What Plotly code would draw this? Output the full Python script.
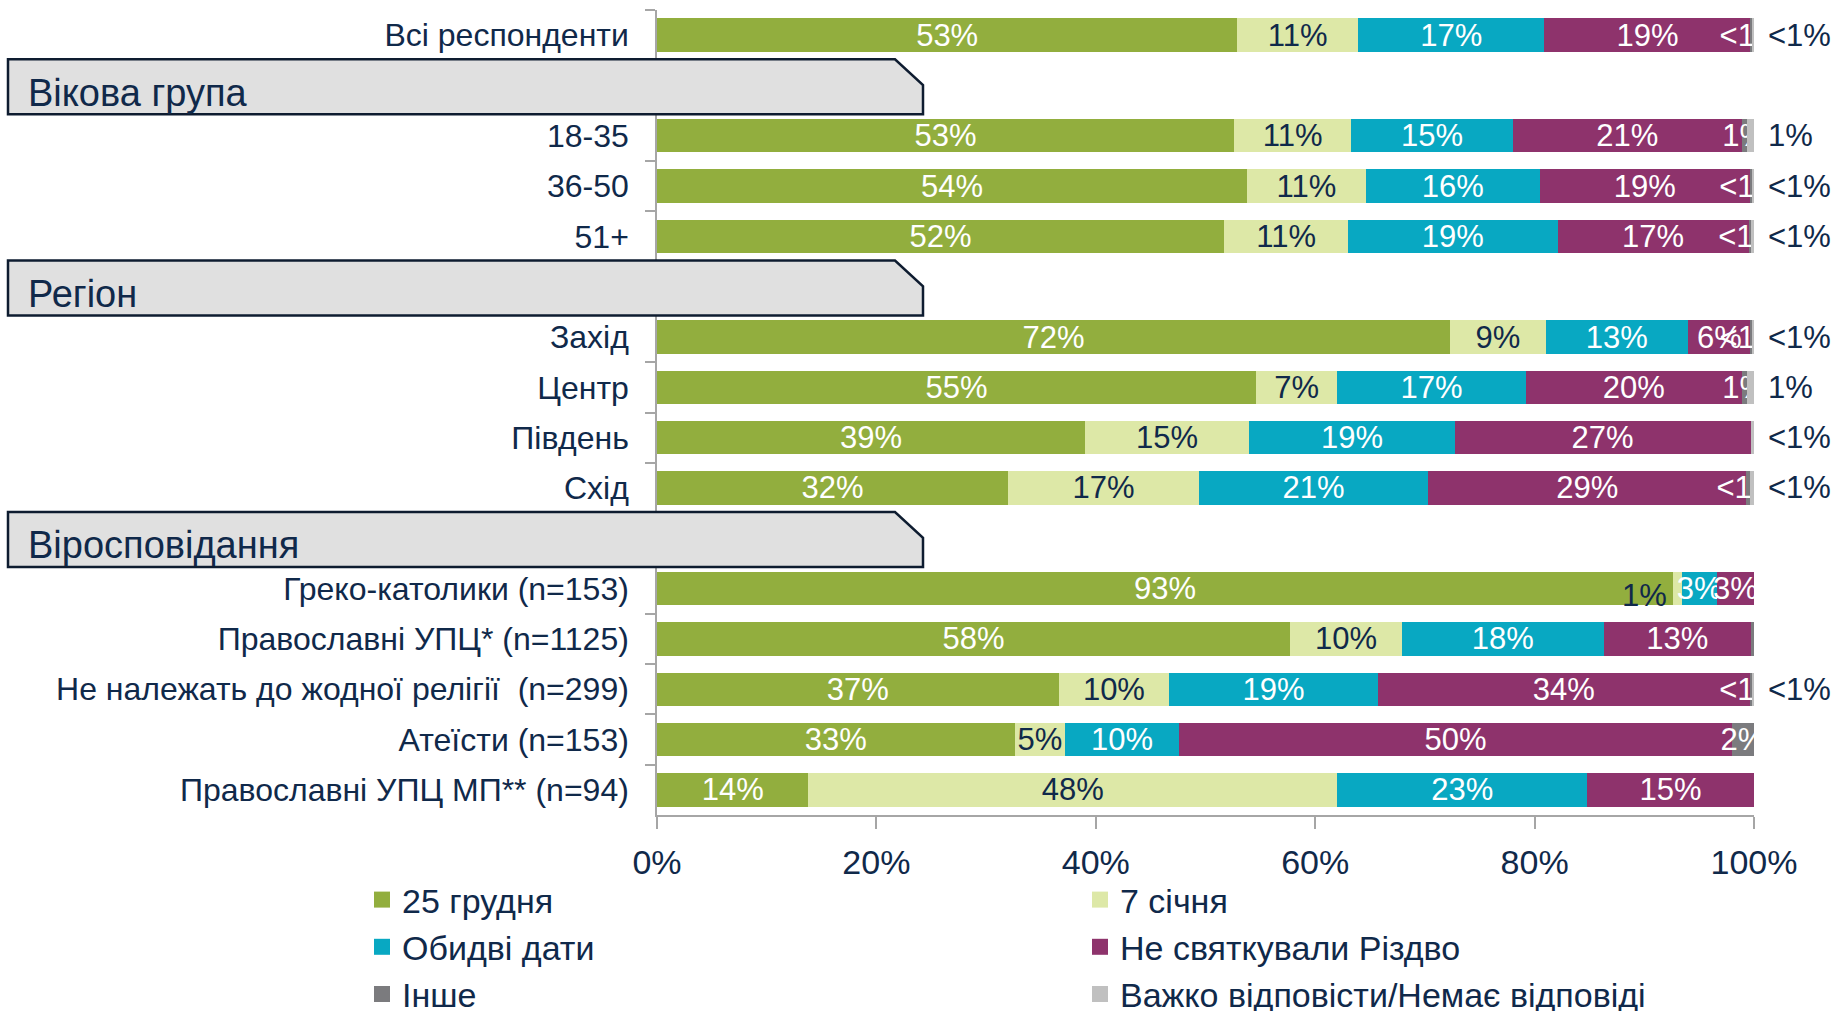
import plotly.graph_objects as go

# Respondent groups (rows) and the section titles inserted between them
categories = [
    "Всі респонденти",
    "18-35", "36-50", "51+",
    "Захід", "Центр", "Південь", "Схід",
    "Греко-католики (n=153)",
    "Православні УПЦ* (n=1125)",
    "Не належать до жодної релігії  (n=299)",
    "Атеїсти (n=153)",
    "Православні УПЦ МП** (n=94)",
]
section_titles = ["Вікова група", "Регіон", "Віросповідання"]
section_starts = [1, 4, 8]  # index of the first group row under each title

series_names = ["25 грудня", "7 січня", "Обидві дати", "Не святкували Різдво",
                "Інше", "Важко відповісти/Немає відповіді"]

# Shares of respondents, %
dec25 = [52.9, 52.6, 53.8, 51.7, 72.3, 54.6, 39.0, 32.0, 92.6, 57.7, 36.6, 32.6, 13.8]
jan7 = [11.0, 10.7, 10.8, 11.3, 8.7, 7.4, 15.0, 17.4, 0.8, 10.2, 10.1, 4.6, 48.2]
both = [17.0, 14.7, 15.9, 19.1, 13.0, 17.2, 18.7, 20.9, 3.2, 18.4, 19.0, 10.4, 22.8]
no_xmas = [18.8, 20.9, 19.1, 17.4, 5.7, 19.7, 27.0, 29.0, 3.4, 13.4, 33.9, 50.4, 15.2]
other = [0.1, 0.5, 0.2, 0.2, 0.1, 0.5, 0.0, 0.3, 0.0, 0.3, 0.2, 2.0, 0.0]
dont_know = [0.2, 0.6, 0.2, 0.3, 0.2, 0.6, 0.3, 0.4, 0.0, 0.0, 0.2, 0.0, 0.0]
other_label_on = [1, 1, 1, 1, 1, 1, 0, 1, 0, 0, 1, 1, 0]

x_ticks = [0, 20, 40, 60, 80, 100]
x_tick_labels = ["0%", "20%", "40%", "60%", "80%", "100%"]

colors = ["#92AE3E", "#DDE8A7", "#08A8C2", "#8E336C", "#7B7B7E", "#C0C0C0"]
NAVY = "#10294A"
LABEL_FONT = "Liberation Sans, Arial, sans-serif"
NUM_FONT = "Liberation Sans Narrow, Liberation Sans, Arial, sans-serif"

# Full row order on the category axis: blank slots hold the section titles
rows = []
for i, c in enumerate(categories):
    if i in section_starts:
        rows.append(" " * (section_starts.index(i) + 1))
    rows.append(c)
n_slots = len(rows)


def pct(v):
    return f"{int(v + 0.5)}%" if v >= 0.5 else "<1%"


series = [dec25, jan7, both, no_xmas, other, dont_know]
text_colors = ["white", NAVY, "white", "white", "white", NAVY]

fig = go.Figure()
annotations = []
for k, (name, vals) in enumerate(zip(series_names, series)):
    if k == 4:
        texts = [pct(v) if (v > 0 and on) else "" for v, on in zip(vals, other_label_on)]
    elif k == 5:
        texts = ["" for _ in vals]
    elif k == 1:
        texts = [pct(v) if v >= 2 else "" for v in vals]
    else:
        texts = [pct(v) for v in vals]
    fig.add_trace(go.Bar(
        y=categories, x=vals, orientation="h", name=name,
        marker=dict(color=colors[k], line=dict(width=0)),
        text=texts, textposition="inside", insidetextanchor="middle",
        textangle=0, textfont=dict(family=NUM_FONT, size=31, color=text_colors[k]),
        cliponaxis=True, showlegend=False, hoverinfo="x+y",
    ))
    # legend entries with larger square swatches
    fig.add_trace(go.Scatter(
        x=[None], y=[None], mode="markers", name=name,
        marker=dict(symbol="square", size=16, color=colors[k]),
        showlegend=True, hoverinfo="skip",
    ))

# narrow "7 січня" segments: value shown just left of the segment
for c, g, v in zip(categories, dec25, jan7):
    if 0 < v < 2:
        annotations.append(dict(
            x=g, y=c, xref="x", yref="y", text=pct(v), showarrow=False,
            xanchor="right", yanchor="middle", xshift=-4, yshift=-7,
            font=dict(family=NUM_FONT, size=31, color=NAVY)))

# "don't know" shares written to the right of the bars
for c, v in zip(categories, dont_know):
    if v > 0:
        annotations.append(dict(
            x=100, y=c, xref="x", yref="y", text=pct(v), showarrow=False,
            xanchor="left", yanchor="middle", xshift=12,
            font=dict(family=NUM_FONT, size=31, color=NAVY)))

# Section title banners (rectangles with a cut top-right corner)
L, T, R, B = 657, 10, 81, 196
W = 1835 - L - R
H = 1011 - T - B
shapes = []


def px_to_paper_x(px):
    return (px - L) / W


def px_to_paper_y(py):
    return 1 - (py - T) / H


def slot_to_paper_y(pos):
    return 1 - (pos + 0.5) / n_slots


for j, title in enumerate(section_titles):
    slot = rows.index(" " * (j + 1))
    y_top = slot_to_paper_y(slot - 0.52)
    y_bot = slot_to_paper_y(slot + 0.57)
    y_cut = slot_to_paper_y(slot - 0.01)
    x0 = px_to_paper_x(8)
    x1 = px_to_paper_x(923)
    xc = px_to_paper_x(895)
    shapes.append(dict(
        type="path", xref="paper", yref="paper", layer="above",
        path=f"M{x0},{y_bot} L{x0},{y_top} L{xc},{y_top} L{x1},{y_cut} L{x1},{y_bot} Z",
        fillcolor="#E0E0E0", line=dict(color="#0E1C30", width=2.5)))
    annotations.append(dict(
        x=px_to_paper_x(26), y=slot_to_paper_y(slot + 0.14), xref="paper", yref="paper",
        text=title, showarrow=False, xanchor="left", yanchor="middle",
        font=dict(family=LABEL_FONT, size=38, color=NAVY)))

fig.update_layout(
    width=1835, height=1011,
    margin=dict(l=L, r=R, t=T, b=B, pad=0, autoexpand=False),
    barmode="stack", bargap=0.336,
    plot_bgcolor="white", paper_bgcolor="white",
    shapes=shapes, annotations=annotations,
    uniformtext=dict(minsize=31, mode="show"),
    legend=dict(
        orientation="h",
        x=px_to_paper_x(362), xanchor="left", y=px_to_paper_y(871), yanchor="top",
        entrywidth=673, entrywidthmode="pixels", traceorder="normal",
        font=dict(family=LABEL_FONT, size=34, color=NAVY),
        itemclick=False, tracegroupgap=0, bgcolor="rgba(0,0,0,0)",
    ),
    xaxis=dict(
        range=[0, 100], tickmode="array", tickvals=x_ticks, ticktext=x_tick_labels,
        showgrid=False, zeroline=False, showline=True, linecolor="#A6A6A6", linewidth=1.5,
        ticks="outside", ticklen=12, tickcolor="#A6A6A6", tickwidth=1.5,
        ticklabelstandoff=4,
        tickfont=dict(family=NUM_FONT, size=34, color=NAVY), fixedrange=True,
        automargin=False,
    ),
    yaxis=dict(
        type="category", categoryorder="array", categoryarray=rows,
        range=[n_slots - 0.5, -0.5], tickson="boundaries",
        showgrid=False, zeroline=False, showline=True, linecolor="#A6A6A6", linewidth=1.5,
        ticks="outside", ticklen=10, tickcolor="#A6A6A6", tickwidth=1.5,
        ticklabelstandoff=20, automargin=False,
        tickfont=dict(family=LABEL_FONT, size=32, color=NAVY), fixedrange=True,
    ),
)

fig.write_html("out.html")
